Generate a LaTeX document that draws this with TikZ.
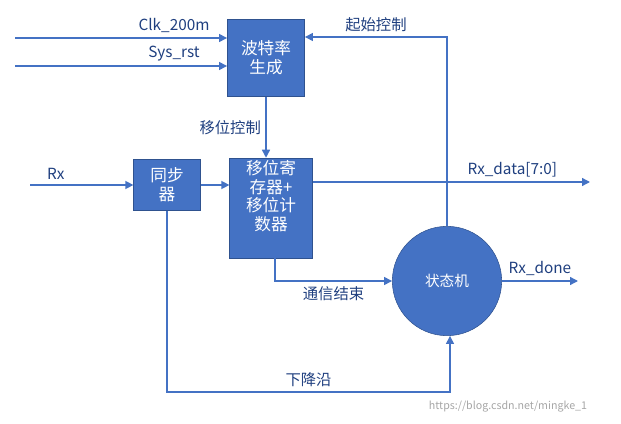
\documentclass[tikz,border=0pt]{standalone}
\usepackage{fontspec}
\setmainfont{Noto Sans CJK SC}
\usepackage{tikz}
\usetikzlibrary{positioning,arrows.meta}
\definecolor{boxblue}{HTML}{4472C4}
\definecolor{edgeblue}{HTML}{2F528F}
\definecolor{txtblue}{HTML}{1F3F7F}
\begin{document}
\begin{tikzpicture}[x=0.75pt,y=-0.75pt,
  blk/.style={draw=edgeblue,fill=boxblue,text=white,inner sep=0pt,font=\fontsize{12.5}{14}\selectfont,align=center},
  wire/.style={draw=boxblue,line width=1pt,-{Triangle[length=6pt,width=6pt]}},
  lbl/.style={text=txtblue,font=\fontsize{11.5}{13}\selectfont}]
\useasboundingbox (0,0) rectangle (621,424);
% blocks
\node[blk,minimum width=58pt,minimum height=58pt] (baud) at (266,58) {波特率\\生成};
\node[blk,minimum width=50pt,minimum height=38pt] (sync) at (167,185) {同步\\器};
\node[blk,minimum width=62pt,minimum height=75pt] (shift) at (271,208) {};
\node[text=white,font=\fontsize{12.5}{14}\selectfont,align=center] at (271,196) {移位寄\\存器+\\移位计\\数器};
\node[circle,draw=edgeblue,fill=boxblue,text=white,minimum size=82pt,font=\fontsize{11}{13}\selectfont] (fsm) at (447,281) {状态机};
% free ends
\coordinate (clkin) at (15,38);
\coordinate (rstin) at (15,66);
\coordinate (rxin) at (30,185);
\coordinate (dout) at (590,182);
\coordinate (doneout) at (578,281);
% inputs
\draw[wire] (clkin) -- (clkin-|baud.west) node[lbl,pos=0.75,above] {Clk\_200m};
\draw[wire] (rstin) -- (rstin-|baud.west) node[lbl,pos=0.75,above] {Sys\_rst};
\draw[wire] (fsm.north) |- (baud.east|-0,37) node[lbl,pos=0.75,above] {起始控制};
\draw[wire] (baud.south) -- (shift.north-|baud.south) node[lbl,midway,left] {移位控制};
\draw[wire] (rxin) -- (sync.west) node[lbl,pos=0.25,above] {Rx};
\draw[wire] (sync.east) -- (shift.west|-sync.east);
\draw[wire] (shift.east|-dout) -- (dout) node[lbl,pos=0.72,above] {Rx\_data[7:0]};
\draw[wire] (fsm.east) -- (doneout) node[lbl,midway,above] {Rx\_done};
\draw[wire] (shift.south-|275,0) |- (fsm.west) node[lbl,pos=0.75,below] {通信结束};
\draw[wire] (sync.south) |- (450,392) node[lbl,pos=0.75,above] {下降沿} -- (fsm.south-|450,0);
\node[text=black!35,font=\fontsize{8}{9}\selectfont] at (508,407) {https://blog.csdn.net/mingke\_1};
\end{tikzpicture}
\end{document}
